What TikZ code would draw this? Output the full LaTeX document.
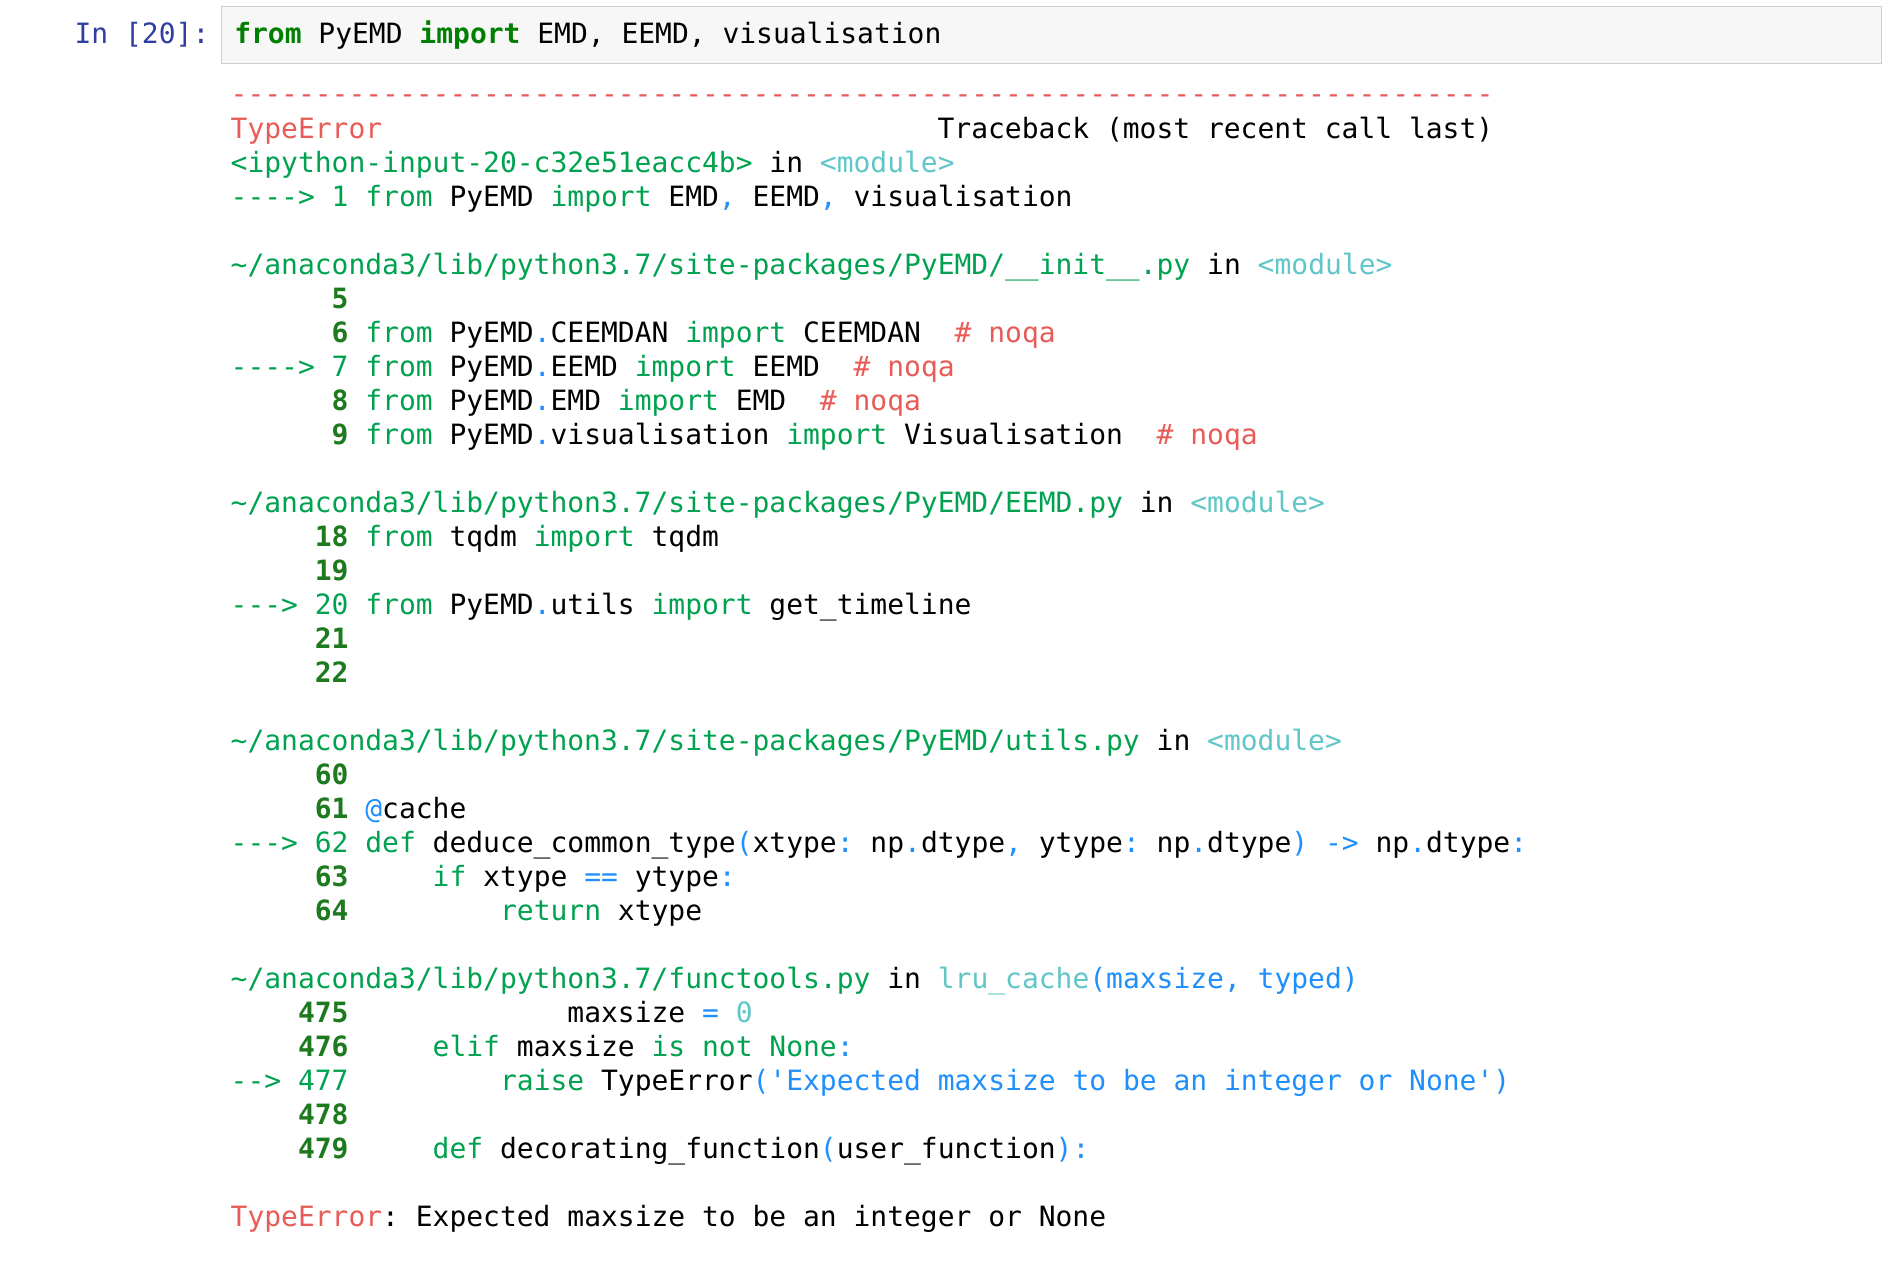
\documentclass[tikz,border=0pt]{standalone}
\usepackage{fontspec}
\setmonofont{DejaVu Sans Mono}
\definecolor{ared}{HTML}{E75C58}
\definecolor{agreen}{HTML}{00A250}
\definecolor{dgreen}{HTML}{1E7A1E}
\definecolor{acyan}{HTML}{60C6C8}
\definecolor{ablue}{HTML}{208FFB}
\definecolor{kwgreen}{HTML}{008000}
\definecolor{prompt}{HTML}{303F9F}
\newcommand\R[1]{\textcolor{ared}{#1}}
\newcommand\G[1]{\textcolor{agreen}{#1}}
\newcommand\N[1]{\textcolor{dgreen}{\bfseries #1}}
\newcommand\C[1]{\textcolor{acyan}{#1}}
\newcommand\B[1]{\textcolor{ablue}{#1}}
\tikzset{ln/.style={anchor=base west,inner sep=0pt,font=\ttfamily\fontsize{23.3}{28}\selectfont}}
\begin{document}
\begin{tikzpicture}[x=1pt,y=-1pt]
\useasboundingbox (0,0) rectangle (1568,1056);
\fill[white] (0,0) rectangle (1568,1056);
\draw[draw={rgb,255:red,207;green,207;blue,207},fill={rgb,255:red,247;green,247;blue,247}] (184,5) rectangle (1567,53);
\node[ln] (prompt) at (62,36) {\textcolor{prompt}{In~[20]:}};
\node[ln] (code) at (195,36) {\textcolor{kwgreen}{\bfseries from}~PyEMD~\textcolor{kwgreen}{\bfseries import}~EMD,~EEMD,~visualisation};
\node[ln] (dash) at (192,86) {\R{---------------------------------------------------------------------------}};
\node[ln] (l0) at (192,{115+28.35*0}) {\R{TypeError}};
\node[ln] (l0b) at (781,{115+28.35*0}) {Traceback~(most~recent~call~last)};
\node[ln] (l1) at (192,{115+28.35*1}) {\G{<ipython-input-20-c32e51eacc4b>}~in~\C{<module>}};
\node[ln] (l2) at (192,{115+28.35*2}) {\G{---->~1~from}~PyEMD~\G{import}~EMD\B{,}~EEMD\B{,}~visualisation};
\node[ln] (l4) at (192,{115+28.35*4}) {\G{\textasciitilde/anaconda3/lib/python3.7/site-packages/PyEMD/\_\_init\_\_.py}~in~\C{<module>}};
\node[ln] (l5) at (192,{115+28.35*5}) {~~~~~~\N{5}};
\node[ln] (l6) at (192,{115+28.35*6}) {~~~~~~\N{6}~\G{from}~PyEMD\B{.}CEEMDAN~\G{import}~CEEMDAN~~\R{\#~noqa}};
\node[ln] (l7) at (192,{115+28.35*7}) {\G{---->~7~from}~PyEMD\B{.}EEMD~\G{import}~EEMD~~\R{\#~noqa}};
\node[ln] (l8) at (192,{115+28.35*8}) {~~~~~~\N{8}~\G{from}~PyEMD\B{.}EMD~\G{import}~EMD~~\R{\#~noqa}};
\node[ln] (l9) at (192,{115+28.35*9}) {~~~~~~\N{9}~\G{from}~PyEMD\B{.}visualisation~\G{import}~Visualisation~~\R{\#~noqa}};
\node[ln] (l11) at (192,{115+28.35*11}) {\G{\textasciitilde/anaconda3/lib/python3.7/site-packages/PyEMD/EEMD.py}~in~\C{<module>}};
\node[ln] (l12) at (192,{115+28.35*12}) {~~~~~\N{18}~\G{from}~tqdm~\G{import}~tqdm};
\node[ln] (l13) at (192,{115+28.35*13}) {~~~~~\N{19}};
\node[ln] (l14) at (192,{115+28.35*14}) {\G{--->~20~from}~PyEMD\B{.}utils~\G{import}~get\_timeline};
\node[ln] (l15) at (192,{115+28.35*15}) {~~~~~\N{21}};
\node[ln] (l16) at (192,{115+28.35*16}) {~~~~~\N{22}};
\node[ln] (l18) at (192,{115+28.35*18}) {\G{\textasciitilde/anaconda3/lib/python3.7/site-packages/PyEMD/utils.py}~in~\C{<module>}};
\node[ln] (l19) at (192,{115+28.35*19}) {~~~~~\N{60}};
\node[ln] (l20) at (192,{115+28.35*20}) {~~~~~\N{61}~\B{@}cache};
\node[ln] (l21) at (192,{115+28.35*21}) {\G{--->~62~def}~deduce\_common\_type\B{(}xtype\B{:}~np\B{.}dtype\B{,}~ytype\B{:}~np\B{.}dtype\B{)}~\B{->}~np\B{.}dtype\B{:}};
\node[ln] (l22) at (192,{115+28.35*22}) {~~~~~\N{63}~~~~~\G{if}~xtype~\B{==}~ytype\B{:}};
\node[ln] (l23) at (192,{115+28.35*23}) {~~~~~\N{64}~~~~~~~~~\G{return}~xtype};
\node[ln] (l25) at (192,{115+28.35*25}) {\G{\textasciitilde/anaconda3/lib/python3.7/functools.py}~in~\C{lru\_cache}\B{(maxsize,~typed)}};
\node[ln] (l26) at (192,{115+28.35*26}) {~~~~\N{475}~~~~~~~~~~~~~maxsize~\B{=}~\C{0}};
\node[ln] (l27) at (192,{115+28.35*27}) {~~~~\N{476}~~~~~\G{elif}~maxsize~\G{is~not~None}\B{:}};
\node[ln] (l28) at (192,{115+28.35*28}) {\G{-->~477}~~~~~~~~~\G{raise}~TypeError\B{('Expected~maxsize~to~be~an~integer~or~None')}};
\node[ln] (l29) at (192,{115+28.35*29}) {~~~~\N{478}};
\node[ln] (l30) at (192,{115+28.35*30}) {~~~~\N{479}~~~~~\G{def}~decorating\_function\B{(}user\_function\B{):}};
\node[ln] (l32) at (192,{115+28.35*32}) {\R{TypeError}:~Expected~maxsize~to~be~an~integer~or~None};
\end{tikzpicture}
\end{document}
